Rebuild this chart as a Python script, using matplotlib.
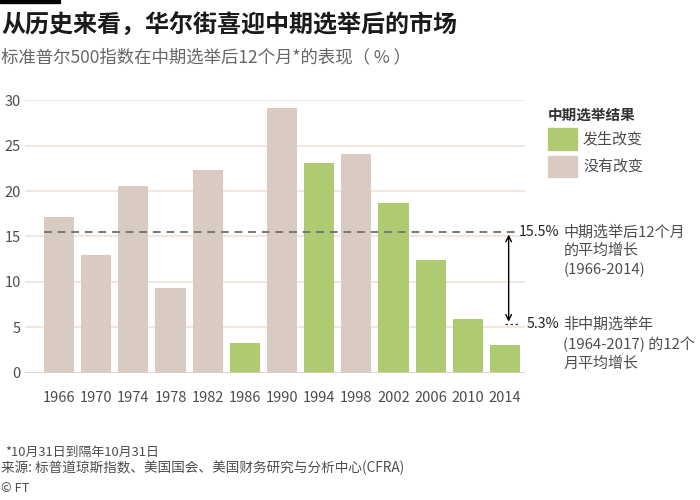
import matplotlib.pyplot as plt
import numpy as np

plt.rcParams['font.family'] = ['Noto Sans CJK SC', 'DejaVu Sans']

years = ["1966", "1970", "1974", "1978", "1982", "1986", "1990",
         "1994", "1998", "2002", "2006", "2010", "2014"]
returns = [17.1, 13.0, 20.5, 9.3, 22.3, 3.2, 29.1, 23.1, 24.1, 18.65, 12.4, 5.9, 3.0]
changed = [False, False, False, False, False, True, False, True, False, True, True, True, True]
mid_avg = 15.5
non_mid_avg = 5.3
y_ticks = [0, 5, 10, 15, 20, 25, 30]

green = "#aecb71"
grey = "#d9cbc1"
grid_c = "#eee3da"
text_c = "#4d4d4d"

fig = plt.figure(figsize=(7, 5), dpi=100)
ax = fig.add_axes([25/700, 1 - 372.5/500, 500/700, 272.2/500])

x = np.arange(len(years))
colors = [green if c else grey for c in changed]
ax.bar(x, returns, width=0.81, color=colors, zorder=2)

ax.set_xlim(-0.915, 12.54)
ax.set_ylim(0, 30)
ax.set_yticks(y_ticks)
ax.set_xticks(x)
ax.set_xticklabels(years)
for s in ax.spines.values():
    s.set_visible(False)
ax.grid(axis='y', color=grid_c, linewidth=1.2, zorder=0)
ax.axhline(0, color="#e0cfc2", linewidth=1.2, zorder=3)
ax.tick_params(length=0, labelsize=10.5, colors=text_c)
ax.tick_params(axis='y', pad=3)
ax.tick_params(axis='x', pad=13)
for lab in ax.get_yticklabels():
    lab.set_horizontalalignment('right')

# average lines
ax.plot([-0.405, 12.35], [mid_avg, mid_avg], ls=(0, (4, 3)), color="#777777",
        lw=1.4, zorder=4, clip_on=False)
ax.plot([12.0, 12.4], [non_mid_avg, non_mid_avg], ls=(0, (2, 2)), color="#333333",
        lw=0.9, zorder=4, clip_on=False)
ax.annotate("", xy=(12.1, non_mid_avg + 0.3), xytext=(12.1, mid_avg - 0.3),
            arrowprops=dict(arrowstyle="<->", color="black", lw=1.0,
                            shrinkA=0, shrinkB=0), annotation_clip=False)

ax.text(12.37, mid_avg, "15.5%", fontsize=10.2, color="#222222", va='center', ha='left')
ax.text(13.57, mid_avg + 0.75, "中期选举后12个月\n的平均增长\n(1966-2014)", fontsize=10.8,
        color=text_c, va='top', ha='left', linespacing=1.4)
ax.text(12.58, non_mid_avg, "5.3%", fontsize=10.2, color="#222222", va='center', ha='left')
ax.text(13.57, non_mid_avg + 0.75, "非中期选举年\n(1964-2017) 的12个\n月平均增长", fontsize=10.8,
        color=text_c, va='top', ha='left', linespacing=1.4)

# legend
fig.text(548/700, 1 - 115/500, "中期选举结果", fontsize=10.5, fontweight='bold',
         color="#333333", va='center')
fig.patches.append(plt.Rectangle((548/700, 1 - 150/500), 29/700, 22/500,
                                 color=green, transform=fig.transFigure))
fig.text(583/700, 1 - 139/500, "发生改变", fontsize=10.8, color=text_c, va='center')
fig.patches.append(plt.Rectangle((548/700, 1 - 177/500), 29/700, 21/500,
                                 color=grey, transform=fig.transFigure))
fig.text(583/700, 1 - 167/500, "没有改变", fontsize=10.8, color=text_c, va='center')

# titles
fig.patches.append(plt.Rectangle((0, 1 - 3/500), 60/700, 3/500,
                                 color="black", transform=fig.transFigure))
fig.text(0.002, 1 - 25/500, "从历史来看，华尔街喜迎中期选举后的市场", fontsize=17.3,
         fontweight='bold', color="#1a1a1a", va='center')
fig.text(0.002, 1 - 57/500, "标准普尔500指数在中期选举后12个月*的表现（ % ）", fontsize=12.5,
         color="#666666", va='center')

# footer
fig.text(5/700, 1 - 452/500, "*10月31日到隔年10月31日", fontsize=9.3, color=text_c, va='center')
fig.text(0.002, 1 - 468/500, "来源: 标普道琼斯指数、美国国会、美国财务研究与分析中心(CFRA)",
         fontsize=9.8, color=text_c, va='center')
fig.text(0.002, 1 - 489/500, "© FT", fontsize=9.3, color=text_c, va='center')

fig.savefig("out.png", dpi=100)
